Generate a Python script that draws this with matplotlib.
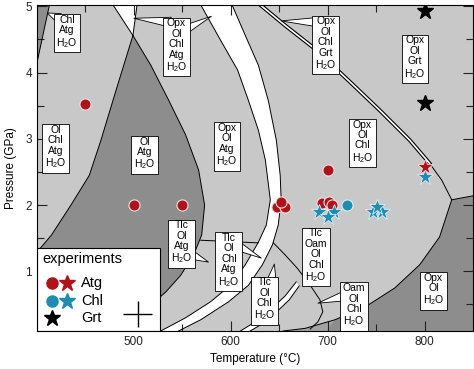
import matplotlib
matplotlib.use("Agg")
import matplotlib.pyplot as plt
from matplotlib.patches import Rectangle

plt.rcParams["font.family"] = ["Liberation Sans", "DejaVu Sans"]
plt.rcParams["mathtext.fontset"] = "custom"
plt.rcParams["mathtext.rm"] = "Liberation Sans"
plt.rcParams["mathtext.it"] = "Liberation Sans:italic"

LIGHT = "#c8c8c8"
MID = "#a2a2a2"
DARK = "#8d8d8d"
RED = "#b0121a"
BLUE = "#1f8cb2"

# phase field boundaries, (T in degC, P in GPa)
wedge_tl = [(400, 5.1), (414, 5.1), (400, 4.15)]
wedge_top = [(475, 5.1), (504, 5.1), (499, 4.56)]
lens_left = [(499, 4.56), (481.5, 3.73), (466, 2.98), (454, 2.45), (435, 2.0),
             (415, 1.55), (400, 1.29)]
lens_right = [(499, 4.56), (517.5, 4.11), (536, 3.58), (553.4, 3.06), (566.8, 2.53),
              (573, 2.0), (570, 1.55), (561.7, 1.25), (548.3, 0.94), (533, 0.69),
              (517.5, 0.49), (466, 0.1)]
band_left = [(566, 5.1), (589.4, 4.49), (607, 4.04), (618.2, 3.58), (628.5, 3.13),
             (635.7, 2.68), (640.8, 2.08), (636.7, 1.70), (628.5, 1.44), (615, 1.10),
             (599.7, 0.79), (579, 0.54), (553.4, 0.30), (527.7, 0.10), (520, 0.0)]
band_right = [(599, 5.1), (615, 4.56), (628.5, 4.11), (638.7, 3.58), (647, 2.98),
              (651, 2.45), (652, 2.08), (649, 1.70), (643, 1.40), (632.6, 1.10),
              (618.2, 0.79), (597.6, 0.54), (569, 0.27), (546, 0.10), (540, 0.0)]
thin_left = [(667.5, 0.84), (656.2, 0.63), (640.8, 0.42), (625.4, 0.24), (610, 0.1)]
thin_right = [(670.6, 0.78), (660.3, 0.57), (646, 0.37), (630.5, 0.19), (620, 0.1)]
grt_double = [(624, 5.1), (656.2, 4.71), (685, 4.38), (723, 3.86), (753.8, 3.43),
              (784.7, 2.98), (805.2, 2.63)]
grt_single = [(805.2, 2.63), (817.6, 2.38), (828, 2.08)]
opx_curve = [(828, 2.08), (815.5, 1.52), (795, 1.10), (769.3, 0.75), (738.4, 0.46),
             (707.6, 0.27), (676.8, 0.14), (654, 0.1)]
opx_top = [(828, 2.08), (850, 2.14)]
oam_corner = (699, 0.1)
tlc_line = [(569, 1.47), (628, 1.43)]
tlc_oam_curve = [(644, 1.43), (656, 1.25), (668.5, 1.05), (682, 0.79), (692, 0.57),
                 (695, 0.39), (690, 0.24), (682, 0.13)]

# field labels: text, centre (T, P)
field_text = ["Chl\nAtg\nH$_2$O", "Ol\nChl\nAtg\nH$_2$O", "Ol\nAtg\nH$_2$O",
              "Opx\nOl\nChl\nAtg\nH$_2$O", "Opx\nOl\nAtg\nH$_2$O",
              "Opx\nOl\nChl\nGrt\nH$_2$O", "Opx\nOl\nGrt\nH$_2$O",
              "Opx\nOl\nChl\nH$_2$O", "Tlc\nOl\nAtg\nH$_2$O",
              "Tlc\nOl\nChl\nAtg\nH$_2$O", "Tlc\nOl\nChl\nH$_2$O",
              "Tlc\nOam\nOl\nChl\nH$_2$O", "Oam\nOl\nChl\nH$_2$O", "Opx\nOl\nH$_2$O"]
field_T = [431, 419, 511, 544, 596, 698, 790, 736, 549, 598, 635, 688, 727, 809]
field_P = [4.61, 2.87, 2.77, 4.40, 2.90, 4.43, 4.22, 2.95, 1.43, 1.16, 0.57, 1.23, 0.48, 0.72]
# callout pointers: base (T, P) -> tip (T, P)
pointer_base = [(423, 4.82), (538, 4.76), (549, 4.62), (692, 4.76), (557.6, 1.26),
                (604.8, 1.40), (641.8, 0.84), (718, 0.63)]
pointer_tip = [(410.6, 4.90), (500, 4.82), (580, 4.85), (652, 4.78), (577, 1.14),
               (631.5, 1.20), (645, 1.11), (690, 0.52)]

# experiments
atg_circle_T = [450, 500, 550, 648, 656, 652, 700, 694, 701, 704]
atg_circle_P = [3.52, 2.0, 2.0, 1.97, 1.97, 2.05, 2.53, 2.03, 2.05, 2.0]
chl_circle_T = [720]
chl_circle_P = [2.0]
chl_star_T = [691, 707, 700, 747, 756, 751, 800]
chl_star_P = [1.89, 1.89, 1.82, 1.89, 1.89, 1.97, 2.43]
atg_star_T = [800]
atg_star_P = [2.57]
grt_star_T = [800, 800]
grt_star_P = [4.93, 3.54]
err_T, err_P = 504, 0.36
err_dT, err_dP = 15, 0.2


def xy(pts):
    return [p[0] for p in pts], [p[1] for p in pts]


fig = plt.figure(figsize=(4.74, 3.69), dpi=100)
ax = fig.add_axes([37 / 474, 38 / 369, 436 / 474, 326 / 369])
ax.set_facecolor(LIGHT)

# filled fields
ax.fill(*xy(opx_curve + [(850, 0.0), (850, 2.14)]), color=DARK, lw=0, zorder=1)
ax.fill(*xy(opx_curve[-3:] + [oam_corner]), color=MID, lw=0, zorder=1)
ax.fill(*xy(wedge_tl), color=DARK, lw=0, zorder=1)
ax.fill(*xy(wedge_top), color="white", lw=0, zorder=1)
ax.fill(*xy(lens_left + [(400, 0.0)] + lens_right[::-1]), color=DARK, lw=0, zorder=1)
ax.fill(*xy(band_left + band_right[::-1]), color="white", lw=0, zorder=1)
ax.fill(*xy(thin_left + thin_right[::-1]), color="white", lw=0, zorder=1)

# boundaries
lk = dict(color="black", lw=0.7, zorder=2)
ax.plot(*xy(wedge_tl[1:]), **lk)
ax.plot(*xy([wedge_top[0], wedge_top[2]]), **lk)
ax.plot(*xy(wedge_top[1:]), **lk)
for curve in [lens_left, lens_right, band_left, band_right, thin_left, thin_right,
              grt_single, opx_curve, opx_top, tlc_line, tlc_oam_curve]:
    ax.plot(*xy(curve), **lk)
ax.plot(*xy(grt_double), color="black", lw=2.8, zorder=2)
ax.plot(*xy(grt_double), color="white", lw=1.2, zorder=2)

# callouts
for base, tip in zip(pointer_base, pointer_tip):
    ax.annotate("", xy=tip, xytext=base,
                arrowprops=dict(arrowstyle="wedge,tail_width=0.9", fc="white",
                                ec="black", lw=0.6, shrinkA=0, shrinkB=0,
                                mutation_scale=8),
                zorder=4)
for txt, t, p in zip(field_text, field_T, field_P):
    ax.text(t, p, txt, ha="center", va="center", fontsize=7.5, linespacing=1.05,
            zorder=5,
            bbox=dict(boxstyle="square,pad=0.25", fc="white", ec="black", lw=0.6))

# experiments
ms = dict(linestyle="none", zorder=6)
ax.plot(atg_circle_T, atg_circle_P, "o", ms=8, mfc=RED, mec="#f4e0e0", mew=0.8, **ms)
ax.plot(chl_circle_T, chl_circle_P, "o", ms=8, mfc=BLUE, mec="#e0eef4", mew=0.8, **ms)
ax.plot(chl_star_T, chl_star_P, "*", ms=12, mfc=BLUE, mec="#e0eef4", mew=0.6, **ms)
ax.plot(atg_star_T, atg_star_P, "*", ms=12, mfc=RED, mec="#f4e0e0", mew=0.6, **ms)
ax.plot(grt_star_T, grt_star_P, "*", ms=12, color="black", **ms)

# legend box
ax.add_patch(Rectangle((0, 0), 0.281, 0.255, transform=ax.transAxes, fc="white",
                       ec="black", lw=0.8, zorder=7))
ax.text(0.013, 0.222, "experiments", transform=ax.transAxes, fontsize=10.5,
        va="center", zorder=8)
lt = dict(transform=ax.transAxes, linestyle="none", zorder=8)
ax.plot(0.035, 0.147, "o", ms=8, mfc=RED, mec=RED, **lt)
ax.plot(0.069, 0.147, "*", ms=12, mfc=RED, mec=RED, **lt)
ax.plot(0.035, 0.092, "o", ms=8, mfc=BLUE, mec=BLUE, **lt)
ax.plot(0.069, 0.092, "*", ms=12, mfc=BLUE, mec=BLUE, **lt)
ax.plot(0.035, 0.040, "*", ms=12, color="black", **lt)
for y, name in zip([0.147, 0.092, 0.040], ["Atg", "Chl", "Grt"]):
    ax.text(0.101, y, name, transform=ax.transAxes, fontsize=10.5, va="center", zorder=8)
ax.errorbar(err_T, err_P, xerr=err_dT, yerr=err_dP, color="black", lw=1.0,
            capsize=0, zorder=8)

ax.set_xlim(400, 850)
ax.set_ylim(0.1, 5.02)
ax.set_xticks([500, 600, 700, 800])
ax.set_xticks([450, 550, 650, 750], minor=True)
ax.set_yticks([1, 2, 3, 4, 5])
ax.set_yticks([0.5, 1.5, 2.5, 3.5, 4.5], minor=True)
ax.tick_params(which="both", direction="in", top=True, right=True, labelsize=8.5,
               colors="#222222")
ax.tick_params(which="major", length=7, width=0.8)
ax.tick_params(which="minor", length=5, width=0.8)
for s in ax.spines.values():
    s.set_linewidth(0.8)
    s.set_zorder(9)
ax.set_xlabel("Temperature (°C)", fontsize=8.5, labelpad=4)
ax.set_ylabel("Pressure (GPa)", fontsize=8.5, labelpad=6)

fig.savefig("out.png", dpi=100)
